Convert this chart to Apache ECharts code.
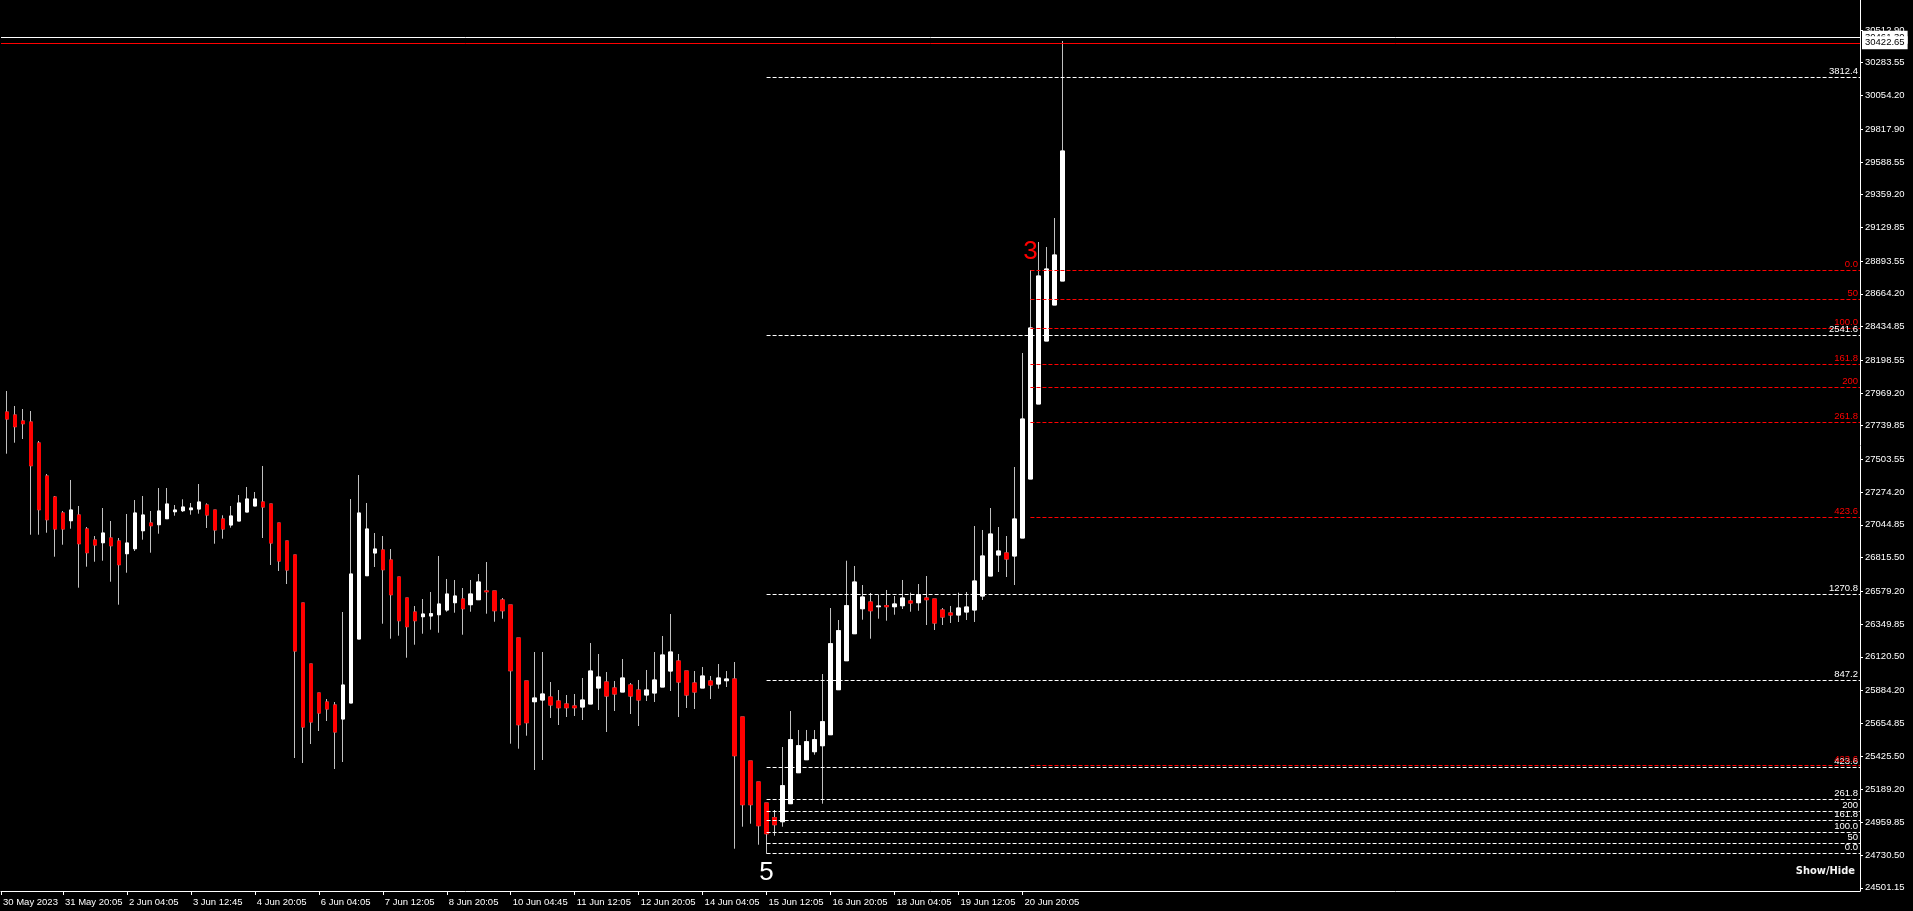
<!DOCTYPE html>
<html>
<head>
<meta charset="utf-8">
<title>BTC H4</title>
<script src="https://cdn.jsdelivr.net/npm/echarts@6/dist/echarts.min.js"></script>
<style>
  html, body { margin: 0; padding: 0; background: #000; }
  #chart { width: 1913px; height: 911px; }
</style>
</head>
<body>
<div id="chart"></div>
<script>
// candles, oldest first (bar index = position in the arrays)
const opens = [27760.8, 27835.8, 27814.8, 27772.7, 27765.7, 27618.6, 27387.3, 27240.1, 27128.0, 27074.0,
  27114.0, 27015.9, 26938.8, 26919.8, 26952.8, 26931.8, 26842.8, 26877.8, 27003.9, 27057.9,
  27046.0, 27088.0, 27137.1, 27144.1, 27151.1, 27156.0, 27184.1, 27149.0, 27085.9, 27044.0,
  27071.9, 27135.0, 27177.1, 27205.1, 27191.1, 27057.9, 26931.8, 26833.7, 26497.3, 26069.8,
  25866.6, 25803.5, 25782.5, 25684.3, 25796.5, 26245.0, 26688.6, 26847.7, 26868.7, 26798.6,
  26679.5, 26532.3, 26434.2, 26401.3, 26406.2, 26415.2, 26448.2, 26499.4, 26525.3, 26485.4,
  26520.4, 26581.4, 26581.4, 26518.3, 26483.3, 26252.0, 25950.7, 25805.6, 25817.5, 25838.5,
  25810.5, 25789.5, 25775.5, 25768.4, 25789.5, 25901.6, 25943.6, 25901.6, 25873.5, 25922.6,
  25887.6, 25852.5, 25866.6, 25908.6, 26020.7, 26090.8, 26020.7, 25936.6, 25901.6, 25950.7,
  25929.6, 25952.8, 25964.7, 25698.4, 25390.0, 25242.8, 25095.7, 24992.7, 24964.7, 25090.8,
  25308.0, 25399.0, 25455.2, 25497.2, 25574.3, 25889.6, 26092.8, 26282.1, 26457.3, 26504.3,
  26471.3, 26478.4, 26471.3, 26478.4, 26511.3, 26499.4, 26532.3, 26525.3, 26448.2, 26427.2,
  26413.2, 26434.2, 26448.2, 26546.3, 26686.5, 26833.7, 26847.7, 26826.7, 26952.8, 27366.3,
  27891.9, 28333.4, 28585.7, 28753.9];
const closes = [27901.0, 27786.7, 27732.8, 27753.8, 27459.5, 27151.1, 27081.0, 27015.9, 27015.9, 27149.0,
  26912.8, 26849.8, 26903.7, 26987.8, 26898.8, 26765.7, 26917.8, 27128.0, 27114.0, 27039.0,
  27142.0, 27191.1, 27149.0, 27170.0, 27163.0, 27205.1, 27114.0, 27008.9, 27015.9, 27107.0,
  27198.1, 27226.1, 27226.1, 27170.0, 26917.8, 26791.6, 26728.5, 26160.9, 25628.3, 25663.3,
  25726.4, 25754.4, 25593.2, 25922.6, 26700.5, 27128.0, 27015.9, 26875.7, 26730.6, 26555.4,
  26373.2, 26331.2, 26373.2, 26420.2, 26422.3, 26490.3, 26560.3, 26546.3, 26457.3, 26560.3,
  26644.4, 26576.4, 26443.3, 26443.3, 26022.8, 25644.4, 25658.4, 25831.5, 25859.5, 25782.5,
  25763.5, 25763.5, 25763.5, 25817.5, 26020.7, 25978.7, 25845.5, 25859.5, 25971.7, 25845.5,
  25817.5, 25887.6, 25957.7, 26132.9, 26153.9, 25943.6, 25852.5, 25873.5, 25985.7, 25922.6,
  25971.7, 25964.7, 25427.2, 25083.8, 25083.8, 24936.6, 24880.5, 24943.6, 25216.9, 25539.3,
  25497.2, 25525.3, 25539.3, 25665.4, 26212.1, 26303.2, 26478.4, 26644.4, 26539.3, 26443.3,
  26476.3, 26471.3, 26490.3, 26532.3, 26497.3, 26555.4, 26520.4, 26357.1, 26399.2, 26413.2,
  26462.2, 26469.3, 26651.4, 26826.7, 26980.8, 26861.7, 26805.6, 27085.9, 27786.7, 28424.5,
  28788.9, 28837.9, 28936.1, 29664.9];
const lows = [27709.7, 27543.6, 27620.7, 27646.6, 26975.9, 26975.9, 26989.9, 26821.7, 26905.8, 27018.0,
  26604.5, 26751.7, 26786.7, 26793.7, 26646.5, 26485.4, 26709.6, 26861.7, 26940.9, 26849.8,
  26982.9, 27085.9, 27109.1, 27135.0, 27116.1, 27123.1, 27022.9, 26912.8, 26947.9, 27025.0,
  27071.9, 27135.0, 27177.1, 26952.8, 26763.6, 26721.5, 26630.4, 25411.0, 25376.0, 25509.1,
  25600.3, 25670.3, 25333.9, 25383.0, 25796.5, 26245.0, 26688.6, 26749.6, 26352.2, 26247.1,
  26268.1, 26113.9, 26205.0, 26282.1, 26310.2, 26289.1, 26436.3, 26429.3, 26275.1, 26436.3,
  26520.4, 26422.3, 26366.2, 26387.2, 25511.3, 25476.2, 25567.3, 25326.9, 25397.0, 25691.4,
  25642.3, 25698.4, 25705.4, 25677.3, 25789.5, 25747.4, 25593.2, 25740.4, 25873.5, 25719.4,
  25635.3, 25810.5, 25803.5, 25908.6, 25880.6, 25698.4, 25761.4, 25754.4, 25901.6, 25824.5,
  25896.7, 25908.6, 24775.4, 24929.6, 24950.6, 24803.4, 24740.4, 24866.5, 24929.6, 25090.8,
  25308.0, 25399.0, 25434.2, 25090.8, 25574.3, 25889.6, 26092.8, 26282.1, 26380.2, 26247.1,
  26387.2, 26373.2, 26415.2, 26455.2, 26436.3, 26443.3, 26343.1, 26308.1, 26343.1, 26357.1,
  26364.1, 26378.1, 26364.1, 26518.3, 26686.5, 26714.5, 26679.5, 26623.4, 26952.8, 27366.3,
  27891.9, 28333.4, 28585.7, 28753.9];
const highs = [27954.9, 27983.0, 27877.9, 27856.8, 27842.8, 27632.6, 27401.3, 27247.0, 27142.0, 27359.3,
  27177.1, 27029.9, 26966.8, 27163.0, 27071.9, 26952.8, 27121.0, 27219.1, 27247.1, 27142.0,
  27303.2, 27303.2, 27184.1, 27224.0, 27198.1, 27331.2, 27196.0, 27149.0, 27111.9, 27177.1,
  27254.1, 27310.2, 27275.1, 27457.4, 27191.1, 27057.9, 26931.8, 26833.7, 26497.3, 26069.8,
  25866.6, 25824.5, 25803.5, 26434.2, 27226.1, 27394.3, 27198.1, 26987.8, 26966.8, 26875.7,
  26679.5, 26532.3, 26476.3, 26525.3, 26574.4, 26826.7, 26665.5, 26658.5, 26602.4, 26658.5,
  26700.5, 26784.6, 26581.4, 26532.3, 26483.3, 26252.0, 25950.7, 26153.9, 26153.9, 25943.6,
  25887.6, 25852.5, 25859.5, 25971.7, 26217.0, 26139.9, 26013.7, 25950.7, 26104.9, 25936.6,
  25957.7, 26027.7, 26153.9, 26266.0, 26420.2, 26139.9, 26020.7, 26020.7, 26048.8, 25985.7,
  26069.8, 26020.7, 26083.8, 25698.4, 25390.0, 25242.8, 25095.7, 25046.6, 25488.1, 25740.4,
  25607.3, 25607.3, 25607.3, 25999.7, 26462.2, 26378.1, 26793.7, 26756.6, 26623.4, 26567.4,
  26553.3, 26588.4, 26546.3, 26658.5, 26569.4, 26630.4, 26686.5, 26525.3, 26462.2, 26476.3,
  26569.4, 26574.4, 27036.9, 27008.9, 27163.0, 27029.9, 26966.8, 27450.4, 28249.3, 28830.9,
  29027.2, 28992.1, 29195.4, 30435.8];

// time axis labels, one every 8 bars
const timeLabels = ['30 May 2023', '31 May 20:05', '2 Jun 04:05', '3 Jun 12:45', '4 Jun 20:05', '6 Jun 04:05',
  '7 Jun 12:05', '8 Jun 20:05', '10 Jun 04:45', '11 Jun 12:05', '12 Jun 20:05', '14 Jun 04:05',
  '15 Jun 12:05', '16 Jun 20:05', '18 Jun 04:05', '19 Jun 12:05', '20 Jun 20:05'];
const timeLabelBars = [0.25, 8, 16, 24, 32, 40, 48, 56, 64, 72, 80, 88, 96, 104, 112, 120, 128];

// price scale labels
const priceTicks = [30512.90, 30283.55, 30054.20, 29817.90, 29588.55, 29359.20, 29129.85, 28893.55,
  28664.20, 28434.85, 28198.55, 27969.20, 27739.85, 27503.55, 27274.20, 27044.85, 26815.50,
  26579.20, 26349.85, 26120.50, 25884.20, 25654.85, 25425.50, 25189.20, 24959.85, 24730.50, 24501.15];

// fibonacci levels drawn from the wave 5 low (white) and from the wave 3 high (red)
const whiteFibNames = ['3812.4', '2541.6', '1270.8', '847.2', '423.6', '261.8', '200', '161.8', '100.0', '50', '0.0'];
const whiteFibPrices = [30181.4, 28370.5, 26560.3, 25957.7, 25348.0, 25121.6, 25034.7, 24976.5, 24892.4, 24813.2, 24743.1];
const redFibNames = ['0.0', '50', '100.0', '161.8', '200', '261.8', '423.6', '423.6'];
const redFibPrices = [28828.8, 28625.6, 28422.4, 28170.0, 28011.0, 27760.8, 27097.8, 25362.0];

// price lines (bid / ask)
const priceLines = [30461.30, 30422.65];
const priceLineColors = ['#ffffff', '#ff0000'];

const xMin = 0.25;
const xMax = 232.75;
const whiteFibStart = 96;
const redFibStart = 129;
const labelFont = 'Liberation Sans';

const wicks = opens.map((o, i) => [i, o, closes[i], lows[i], highs[i]]);
const bodies = opens.map((o, i) => [i, o, closes[i], Math.min(o, closes[i]), Math.max(o, closes[i])]);

function fibLine(start, price, name, color) {
  return [
    {
      coord: [start, price],
      lineStyle: { color: color, type: [4, 2], width: 1 },
      label: {
        show: true, position: 'insideEndTop', formatter: name, color: color,
        fontFamily: labelFont, fontSize: 9.5, distance: [2, 1]
      }
    },
    { coord: [xMax, price] }
  ];
}

const markLines = [];
whiteFibPrices.forEach((p, i) => markLines.push(fibLine(whiteFibStart, p, whiteFibNames[i], '#ffffff')));
redFibPrices.forEach((p, i) => markLines.push(fibLine(redFibStart, p, redFibNames[i], '#ff0000')));
priceLines.forEach((p, i) => markLines.push([
  {
    coord: [xMin, p],
    lineStyle: { color: priceLineColors[i], type: 'solid', width: 1 },
    label: {
      show: true, position: 'end', formatter: p.toFixed(2), color: '#000',
      backgroundColor: '#fff', padding: [2, 3, 1, 3], distance: 2,
      fontFamily: labelFont, fontSize: 9.5
    }
  },
  { coord: [xMax, p] }
]));

const chart = echarts.init(document.getElementById('chart'));
chart.setOption({
  backgroundColor: '#000',
  animation: false,
  grid: { left: 0, right: 53, top: 0, bottom: 20 },
  xAxis: {
    type: 'value', min: xMin, max: xMax,
    axisLine: { show: true, onZero: false, lineStyle: { color: '#fff', width: 1 } },
    axisTick: { show: true, customValues: timeLabelBars, length: 4, lineStyle: { color: '#fff' } },
    axisLabel: {
      customValues: timeLabelBars,
      formatter: v => timeLabels[timeLabelBars.indexOf(v)],
      color: '#fff', fontFamily: labelFont, fontSize: 9.5, align: 'left',
      margin: 6, padding: [0, 0, 0, 2]
    },
    splitLine: { show: false }
  },
  yAxis: {
    type: 'value', position: 'right', min: 24479.0, max: 30723.1,
    axisLine: { show: true, lineStyle: { color: '#fff', width: 1 } },
    axisTick: { show: true, customValues: priceTicks, length: 3, lineStyle: { color: '#fff' } },
    axisLabel: {
      customValues: priceTicks,
      formatter: v => v.toFixed(2),
      color: '#fff', fontFamily: labelFont, fontSize: 9.5, margin: 5
    },
    splitLine: { show: false }
  },
  graphic: [{
    type: 'text', right: 58, top: 866,
    style: { text: 'Show/Hide', fill: '#f4f4f4', font: 'bold 11px "DejaVu Sans Condensed", "Liberation Sans", sans-serif' }
  }],
  series: [
    {
      // shadows (wicks)
      type: 'candlestick', data: wicks, encode: { x: 0, y: [1, 2, 3, 4] },
      barWidth: 4, silent: true,
      itemStyle: {
        color: '#c0c0c0', color0: '#c0c0c0',
        borderColor: '#c0c0c0', borderColor0: '#c0c0c0', borderColorDoji: '#c0c0c0', borderWidth: 1
      }
    },
    {
      // bodies
      type: 'candlestick', data: bodies, encode: { x: 0, y: [1, 2, 3, 4] },
      barWidth: 4, silent: true,
      itemStyle: {
        color: '#ffffff', color0: '#ff0000',
        borderColor: '#ffffff', borderColor0: '#ff0000', borderColorDoji: '#ffffff', borderWidth: 1
      }
    },
    {
      type: 'line', data: [], clip: false, silent: true,
      markLine: { symbol: 'none', silent: true, animation: false, data: markLines },
      markPoint: {
        symbol: 'circle', symbolSize: 0, silent: true, animation: false,
        data: [
          { coord: [96, 24605], label: { show: true, formatter: '5', color: '#ffffff', fontSize: 26, fontFamily: labelFont } },
          { coord: [129, 28957], label: { show: true, formatter: '3', color: '#ff0000', fontSize: 26, fontFamily: labelFont } }
        ]
      }
    }
  ]
});
</script>
</body>
</html>
